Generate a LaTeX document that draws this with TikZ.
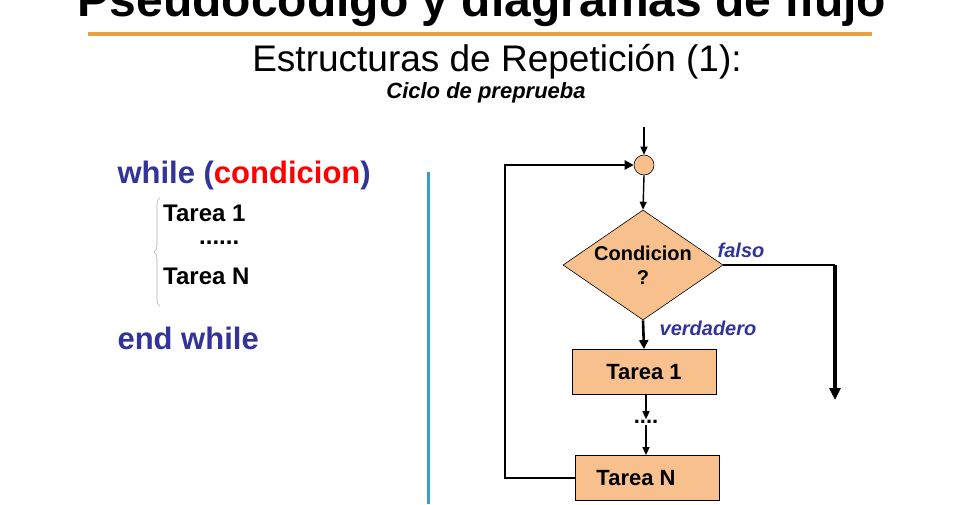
\documentclass[tikz,border=0pt]{standalone}
\usepackage{fontspec}
\setmainfont{Liberation Sans}
\usetikzlibrary{shapes.geometric,arrows.meta,decorations.pathreplacing}
\definecolor{peach}{HTML}{F8C08C}
\definecolor{codeblue}{HTML}{333399}
\definecolor{lblue}{HTML}{33339A}
\definecolor{sepblue}{HTML}{3A9EC0}
\definecolor{rule}{HTML}{E8A040}
\tikzset{
  box/.style={draw=black, fill=peach, line width=0.8pt, minimum width=144pt, minimum height=45pt, font=\fontsize{22}{26}\selectfont\bfseries, inner sep=0pt},
  flow/.style={line width=2.6pt, -{Triangle[length=9pt,width=9pt]}},
  thinflow/.style={line width=1.4pt, -{Triangle[length=8pt,width=7pt]}},
  lab/.style={font=\fontsize{20}{24}\selectfont\bfseries\itshape, text=lblue},
  code/.style={font=\fontsize{31}{34}\selectfont\bfseries, text=codeblue, anchor=west},
  task/.style={font=\fontsize{24}{28}\selectfont\bfseries, anchor=west, inner sep=1pt},
}
\begin{document}
\begin{tikzpicture}[x=1pt,y=-1pt]
\useasboundingbox (0,0) rectangle (960,504);
\fill[white] (0,0) rectangle (960,504);
\node[anchor=base, font=\fontsize{48}{52}\selectfont\bfseries] (title) at (482,16) {Pseudocódigo y diagramas de flujo};
\draw[rule, line width=3.5pt] (88,34) -- (872,34);
\node[font=\fontsize{37}{40}\selectfont] (sub) at (497,62) {Estructuras de Repetición (1):};
\node[font=\fontsize{22}{24}\selectfont\bfseries\itshape] (sub2) at (486,93) {Ciclo de preprueba};
% pseudocode
\node[code] (wh) at (114,175) {while (\textcolor{red}{condicion})};
\node[task] (t1) at (162,213) {Tarea 1};
\node[task] (dots) at (198,243) {......};
\node[task] (tn) at (162,276) {Tarea N};
\node[code] (ew) at (114,338) {end while};
\draw[gray!60, line width=0.6pt, decorate, decoration={brace, amplitude=6pt, mirror}] (160,198) -- (160,306);
\draw[sepblue, line width=3pt] (428,172) -- (428,504);
% flowchart
\coordinate (in) at (644,127);
\node[circle, draw=black, fill=peach, minimum size=20pt, inner sep=0pt, line width=0.6pt] (c) at (644,165) {};
\node[diamond, draw=black, fill=peach, line width=0.6pt, minimum width=160pt, minimum height=110pt, inner sep=0pt, aspect=1.45, align=center, font=\fontsize{20}{24}\selectfont\bfseries] (d) at (643,265) {Condicion\\?};
\node[box] (b1) at (644,372) {Tarea 1};
\node[box] (bn) at (647,478) {Tarea N\hspace*{22pt}};
\node[font=\fontsize{22}{24}\selectfont\bfseries, inner sep=1pt] (dd) at (646,422) {....};
\node[lab] (fal) at (741,250) {falso};
\node[lab] (ver) at (708,328) {verdadero};
\coordinate (fr) at (835,265);
\coordinate (fe) at (835,400);
\coordinate (l1) at (505,478);
\coordinate (l2) at (505,165);
\draw[thinflow] (in) -- (c.north);
\draw[thinflow] (c.south) -- (d.north);
\draw[flow] (d.south) -- (b1.north);
\draw[thinflow] (b1.south -| dd) -- (dd.north);
\draw[thinflow] (dd.south) -- (bn.north -| dd);
\draw[line width=2.6pt] (d.east) -- (fr);
\draw[line width=3.5pt, -{Triangle[length=12pt,width=11pt]}] (fr) -- (fe);
\draw[line width=2.6pt, -{Triangle[length=9pt,width=9pt]}] (bn.west) -- (l1) -- (l2) -- (c.west);
\end{tikzpicture}
\end{document}
